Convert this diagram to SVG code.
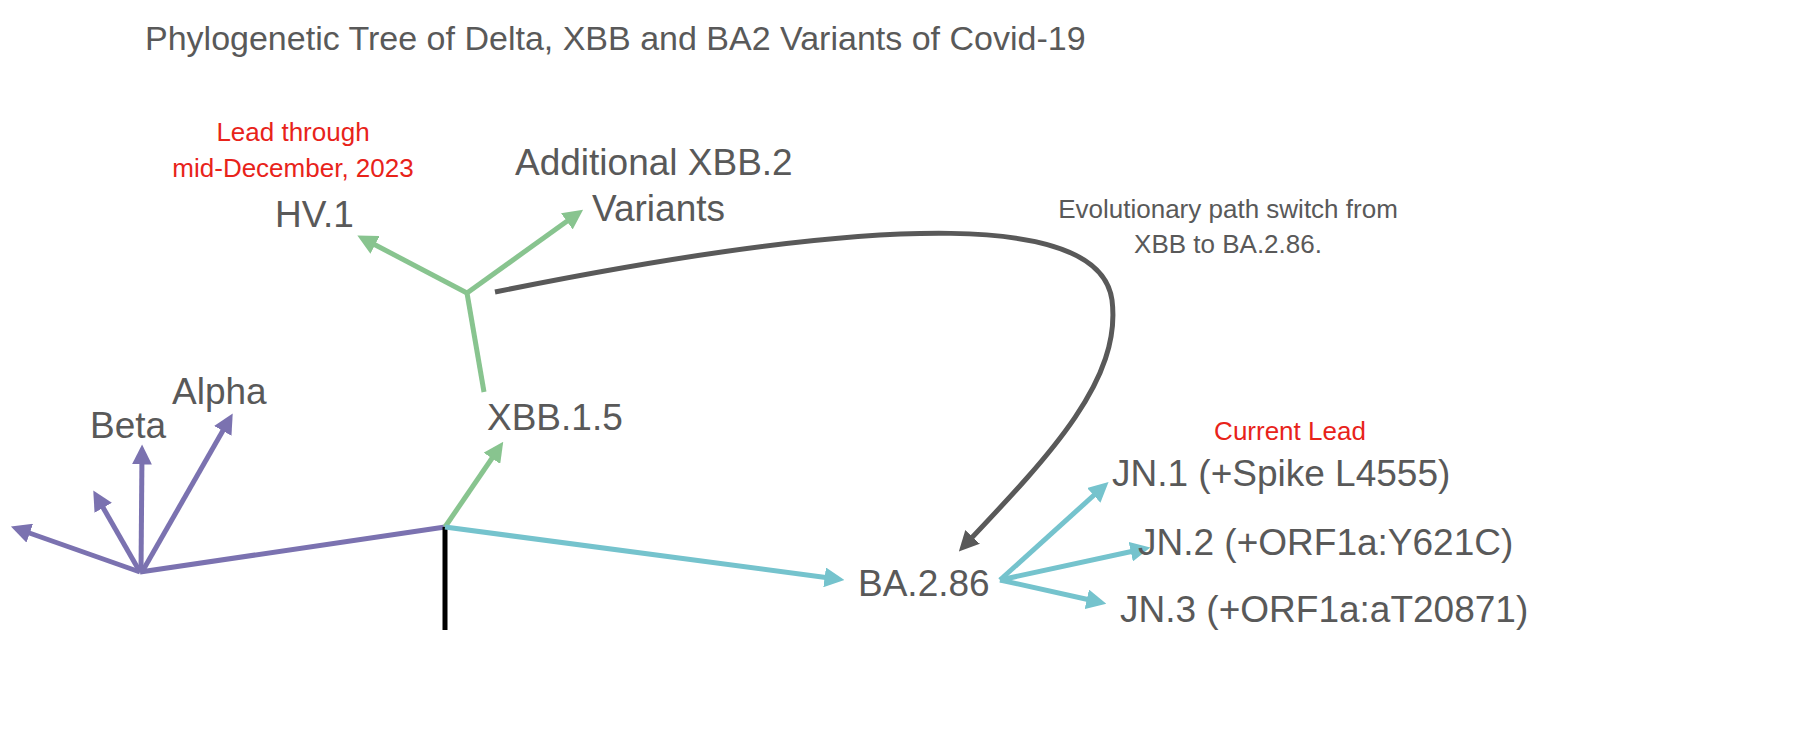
<svg xmlns="http://www.w3.org/2000/svg" width="1797" height="753" viewBox="0 0 1797 753">
<style>
text{font-family:"Liberation Sans",Arial,sans-serif;fill:#595959}
.l{font-size:37px}.r{fill:#e8231a;font-size:26px}.s{font-size:26px}
.p{stroke:#7b72b0;stroke-width:5;fill:none}
.g{stroke:#88c48f;stroke-width:5;fill:none}
.c{stroke:#75c3cd;stroke-width:5;fill:none}
</style>
<defs>
<marker id="mp" markerWidth="4" markerHeight="4" refX="2.5" refY="2" orient="auto" markerUnits="strokeWidth"><path d="M0,0L4,2L0,4z" fill="#7b72b0"/></marker>
<marker id="mg" markerWidth="4" markerHeight="4" refX="2.5" refY="2" orient="auto" markerUnits="strokeWidth"><path d="M0,0L4,2L0,4z" fill="#88c48f"/></marker>
<marker id="mc" markerWidth="4" markerHeight="4" refX="2.5" refY="2" orient="auto" markerUnits="strokeWidth"><path d="M0,0L4,2L0,4z" fill="#75c3cd"/></marker>
<marker id="mk" markerWidth="4" markerHeight="4" refX="2.5" refY="2" orient="auto" markerUnits="strokeWidth"><path d="M0,0L4,2L0,4z" fill="#595959"/></marker>
</defs>
<rect width="1797" height="753" fill="#fff"/>
<text x="145" y="50" style="font-size:34px">Phylogenetic Tree of Delta, XBB and BA2 Variants of Covid-19</text>
<g id="connectors">
<path class="p" d="M140,572L445,527"/>
<path class="p" d="M140,572L18,529" marker-end="url(#mp)"/>
<path class="p" d="M140,572L97,497" marker-end="url(#mp)"/>
<path class="p" d="M141,572L142,452" marker-end="url(#mp)"/>
<path class="p" d="M142,572L229,420" marker-end="url(#mp)"/>
<path d="M445,527V630" stroke="#000" stroke-width="5"/>
<path class="g" d="M445,527L499,448" marker-end="url(#mg)"/>
<path class="g" d="M484,392L467,293"/>
<path class="g" d="M467,293L364,239" marker-end="url(#mg)"/>
<path class="g" d="M467,293L577,214" marker-end="url(#mg)"/>
<path class="c" d="M445,527L837,579" marker-end="url(#mc)"/>
<path class="c" d="M1000,580L1103,487" marker-end="url(#mc)"/>
<path class="c" d="M1000,580L1143,549" marker-end="url(#mc)"/>
<path class="c" d="M1000,580L1099,602" marker-end="url(#mc)"/>
<path d="M495,292C900,210 1100,215 1112,300C1122,380 1050,455 964,546" stroke="#595959" stroke-width="5" fill="none" marker-end="url(#mk)"/>
</g>
<g id="hv1"><text class="r" x="293" y="141" text-anchor="middle">Lead through</text><text class="r" x="293" y="177" text-anchor="middle">mid-December, 2023</text><text class="l" x="275" y="227">HV.1</text></g>
<g id="xbb2"><text class="l" x="515" y="175">Additional XBB.2</text><text class="l" x="592" y="221">Variants</text></g>
<g id="note"><text class="s" x="1228" y="218" text-anchor="middle">Evolutionary path switch from</text><text class="s" x="1228" y="253" text-anchor="middle">XBB to BA.2.86.</text></g>
<g id="alpha"><text class="l" x="172" y="404">Alpha</text></g>
<g id="beta"><text class="l" x="90" y="438">Beta</text></g>
<g id="xbb15"><text class="l" x="487" y="430">XBB.1.5</text></g>
<g id="ba286"><text class="l" x="858" y="596">BA.2.86</text></g>
<g id="jn1"><text class="r" x="1290" y="440" text-anchor="middle">Current Lead</text><text class="l" x="1112" y="486">JN.1 (+Spike L4555)</text></g>
<g id="jn2"><text class="l" x="1138" y="555">JN.2 (+ORF1a:Y621C)</text></g>
<g id="jn3"><text class="l" x="1120" y="622">JN.3 (+ORF1a:aT20871)</text></g>
</svg>
